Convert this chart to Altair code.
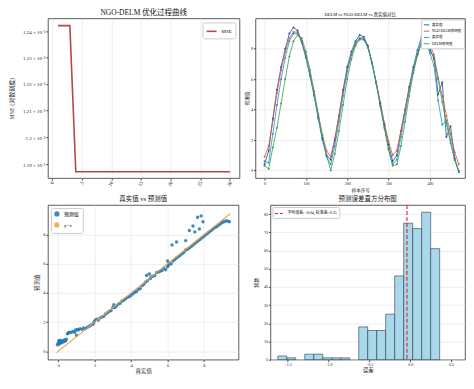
import altair as alt
import pandas as pd

FONT = "Liberation Serif, Noto Sans CJK SC"
GRID = "#e2e2e2"

iterations = list(range(1, 31))
mse_values = [0.12423, 0.12423, 0.12423, 0.11872, 0.11872, 0.11872, 0.11872, 0.11872, 0.11872, 0.11872,
              0.11872, 0.11872, 0.11872, 0.11872, 0.11872, 0.11872, 0.11872, 0.11872, 0.11872, 0.11872,
              0.11872, 0.11872, 0.11872, 0.11872, 0.11872, 0.11872, 0.11872, 0.11872, 0.11872, 0.11872]
mse_ticks = [0.119, 0.120, 0.121, 0.122, 0.123, 0.124]

samples = list(range(0, 471, 10))
true_a = [0.4, 1.3, 3.4, 5.3, 6.8, 8.0, 9.0, 9.4, 9.2, 8.5,
          7.5, 6.3, 5.0, 3.5, 2.1, 1.0, 0.7, 2.0, 3.6, 5.3,
          6.8, 7.8, 8.5, 8.9, 8.8, 8.2, 7.1, 5.8, 4.4, 3.0,
          1.7, 0.6, 1.0, 2.6, 4.0, 5.5, 6.8, 7.9, 8.8, 9.0,
          7.9, 7.4, 5.0, 5.8, 2.2, 2.9, 0.8, -0.1]
ngo_pred = [0.9, 1.6, 3.3, 5.1, 6.6, 7.8, 8.7, 9.1, 9.1, 8.5,
            7.5, 6.3, 5.0, 3.6, 2.3, 1.3, 0.9, 2.1, 3.6, 5.2,
            6.6, 7.6, 8.3, 8.7, 8.7, 8.1, 7.1, 5.8, 4.5, 3.1,
            1.9, 1.0, 1.3, 2.6, 4.0, 5.4, 6.6, 7.6, 8.4, 8.7,
            8.3, 7.6, 6.1, 4.9, 3.6, 2.4, 1.2, 0.4]
true_b = [0.6, 0.5, 2.4, 4.3, 6.0, 7.4, 8.5, 9.0, 9.0, 8.4,
          7.4, 6.2, 4.9, 3.4, 2.0, 0.9, 0.4, 1.6, 3.2, 4.9,
          6.5, 7.6, 8.4, 8.7, 8.7, 8.1, 7.0, 5.7, 4.2, 2.8,
          1.4, 0.4, 0.7, 2.2, 3.7, 5.2, 6.6, 7.7, 8.5, 8.7,
          7.7, 6.9, 4.6, 3.0, 3.3, 2.0, 0.7, -0.1]
delm_pred = [0.3, 0.1, 1.5, 2.8, 4.4, 6.0, 7.5, 8.5, 8.9, 8.7,
             7.8, 6.6, 5.2, 3.7, 2.3, 1.0, 0.0, 1.1, 2.6, 4.3,
             6.0, 7.3, 8.2, 8.6, 8.6, 8.1, 7.1, 5.8, 4.3, 2.8,
             1.4, 0.3, 0.4, 1.6, 3.2, 4.9, 6.4, 7.6, 8.4, 8.6,
             8.1, 7.3, 6.0, 4.5, 3.1, 1.8, 0.7, 0.0]
series_labels = ["真实值", "NGO-DELM预测值", "真实值 ", "DELM预测值"]
series_colors = ["#1f4e9e", "#e0523c", "#2a8fc4", "#35a04a"]

scatter_true = [-0.05, 0.00, 0.02, 0.05, 0.08, 0.10, 0.12, 0.15, 0.20, 0.25,
                0.30, 0.35, 0.40, 0.45, 0.50, 0.55, 0.60, 0.70, 0.80, 0.90,
                0.95, 1.00, 1.05, 1.10, 1.20, 1.30, 1.40, 1.50, 1.60, 1.70,
                1.80, 1.90, 1.95, 2.00, 2.10, 2.20, 2.30, 2.40, 2.50, 2.60,
                2.70, 2.80, 2.90, 3.00, 3.05, 3.10, 3.20, 3.30, 3.40, 3.50,
                3.60, 3.70, 3.80, 3.90, 4.00, 4.10, 4.20, 4.30, 4.40, 4.50,
                4.60, 4.70, 4.80, 4.85, 4.90, 5.00, 5.05, 5.10, 5.20, 5.30,
                5.40, 5.50, 5.60, 5.70, 5.80, 5.90, 6.00, 6.00, 6.05, 6.10,
                6.20, 6.25, 6.30, 6.40, 6.50, 6.50, 6.60, 6.70, 6.80, 6.90,
                7.00, 7.00, 7.10, 7.20, 7.20, 7.30, 7.40, 7.40, 7.50, 7.50,
                7.60, 7.65, 7.70, 7.75, 7.80, 7.85, 7.90, 7.95, 8.00, 8.10,
                8.20, 8.30, 8.40, 8.50, 8.60, 8.70, 8.80, 8.90, 9.00, 9.10,
                9.20, 9.30, 9.40]
scatter_pred = [0.45, 0.55, 0.70, 0.50, 0.62, 0.75, 0.55, 0.68, 0.60, 0.72,
                0.65, 0.78, 0.70, 0.82, 1.20, 1.25, 1.30, 1.28, 1.35, 1.30,
                1.45, 1.10, 1.50, 1.45, 1.55, 1.50, 1.60, 1.55, 1.65, 1.72,
                1.80, 1.85, 1.95, 2.10, 2.20, 2.15, 2.30, 2.35, 2.40, 2.55,
                2.65, 2.75, 2.80, 3.00, 3.20, 3.00, 3.10, 3.25, 3.30, 3.45,
                3.50, 3.60, 3.70, 3.75, 3.85, 3.95, 4.05, 4.10, 4.25, 4.30,
                4.50, 4.60, 4.75, 5.20, 4.85, 5.30, 5.00, 5.10, 5.15, 5.20,
                5.40, 5.45, 5.50, 5.55, 5.70, 5.60, 5.80, 6.20, 5.90, 6.05,
                6.00, 7.30, 6.20, 6.30, 6.40, 7.50, 6.50, 6.60, 6.70, 6.80,
                6.95, 7.60, 7.00, 7.10, 8.30, 7.20, 7.30, 8.60, 7.40, 8.20,
                7.50, 9.20, 7.60, 8.40, 7.70, 9.30, 7.80, 8.90, 7.90, 8.00,
                8.10, 8.20, 8.30, 8.40, 8.50, 8.55, 8.65, 8.75, 8.85, 8.90,
                8.95, 8.95, 8.90]
identity_line = [-0.1, 9.45]
scatter_kinds = ["预测值", "y=x"]

bin_left = [-1.62, -1.51, -1.29, -1.18, -1.07, -0.96, -0.85, -0.63, -0.52, -0.41,
            -0.30, -0.19, -0.08, 0.03, 0.14, 0.25]
bin_right = [-1.51, -1.40, -1.18, -1.07, -0.96, -0.85, -0.74, -0.52, -0.41, -0.30,
             -0.19, -0.08, 0.03, 0.14, 0.25, 0.36]
bin_count = [2, 1, 3, 3, 1, 1, 1, 18, 16, 16, 25, 46, 75, 72, 81, 61]
mean_error = -0.04
mean_label = "平均误差: -0.04, 标准差: 0.35"


def ax(**kw):
    base = dict(labelFont=FONT, titleFont=FONT, labelColor="#222", titleColor="#222",
                tickColor="#444", domain=False, titleFontWeight="normal",
                tickSize=2, labelPadding=1, gridColor=GRID, gridWidth=0.6)
    base.update(kw)
    return alt.Axis(**base)


def ttl(text, size, offset):
    return alt.TitleParams(text, font=FONT, fontSize=size, fontWeight="normal",
                           offset=offset, color="#111")


df1 = pd.DataFrame({"iter": iterations, "mse": mse_values, "name": ["MSE"] * len(iterations)})
p1 = alt.Chart(df1).mark_line(strokeWidth=1.6).encode(
    x=alt.X("iter:Q", scale=alt.Scale(domain=[-0.7, 31.6], nice=False, zero=False),
            axis=ax(values=[0, 5, 10, 15, 20, 25, 30], title=None, labelAngle=-60,
                    labelFontSize=5, grid=True)),
    y=alt.Y("mse:Q", scale=alt.Scale(type="log", domain=[0.11849, 0.12451], nice=False),
            axis=ax(values=mse_ticks, labelExpr="format(datum.value*10, '.2~f') + ' × 10⁻¹'",
                    grid=False, title="MSE (对数刻度)", labelFontSize=5, titleFontSize=6,
                    titlePadding=3, minExtent=30, maxExtent=30)),
    color=alt.Color("name:N", scale=alt.Scale(domain=["MSE"], range=["#b5474b"]),
                    legend=alt.Legend(title=None, orient="top-right", symbolType="stroke",
                                      symbolStrokeWidth=1.6, symbolSize=100, labelFontSize=5,
                                      labelFont=FONT, fillColor="white", strokeColor="#cccccc",
                                      padding=3, cornerRadius=2, offset=4))
).properties(width=192, height=160, title=ttl("NGO-DELM 优化过程曲线", 7.5, 1.5))

rows = []
for lab, vals in zip(series_labels, [true_a, ngo_pred, true_b, delm_pred]):
    for s, v in zip(samples, vals):
        rows.append({"sample": s, "value": v, "series": lab})
df2 = pd.DataFrame(rows)
base2 = alt.Chart(df2).encode(
    x=alt.X("sample:Q", scale=alt.Scale(domain=[-22, 485], nice=False, zero=False),
            axis=ax(values=[0, 100, 200, 300, 400], title="样本序号", labelFontSize=4,
                    titleFontSize=4.5, titlePadding=2, grid=True)),
    y=alt.Y("value:Q", scale=alt.Scale(domain=[-0.5, 10.0], nice=False, zero=False),
            axis=ax(values=[0, 2, 4, 6, 8], title="预测值", labelFontSize=4,
                    titleFontSize=4.5, titlePadding=1, grid=True)),
    color=alt.Color("series:N", sort=series_labels,
                    scale=alt.Scale(domain=series_labels, range=series_colors),
                    legend=alt.Legend(title=None, orient="top-right", symbolType="stroke",
                                      symbolStrokeWidth=1, symbolSize=30, labelFontSize=3.5,
                                      labelFont=FONT, fillColor="white", strokeColor="#cccccc",
                                      padding=2, rowPadding=0.3, cornerRadius=1, offset=1,
                                      labelOffset=2))
)
p2 = alt.layer(
    base2.mark_line(strokeWidth=0.8),
    base2.mark_point(filled=True, size=4, opacity=0.9),
).properties(width=210, height=160,
             title=ttl("DELM vs NGO-DELM vs 真实值对比", 4.5, 1.5))

df3 = pd.DataFrame({"t": scatter_true, "p": scatter_pred, "kind": ["预测值"] * len(scatter_true)})
df3l = pd.DataFrame({"t": identity_line, "p": identity_line, "kind": ["y=x"] * 2})
x3 = alt.X("t:Q", scale=alt.Scale(domain=[-0.57, 9.9], nice=False, zero=False),
           axis=ax(values=[0, 2, 4, 6, 8], title="真实值", labelFontSize=4.5, titleFontSize=5.5,
                   titlePadding=1, grid=True))
y3 = alt.Y("p:Q", scale=alt.Scale(domain=[-0.58, 10.05], nice=False, zero=False),
           axis=ax(values=[0, 2, 4, 6, 8], title="预测值", labelFontSize=4.5, titleFontSize=5.5,
                   titlePadding=3, grid=True))
col3 = alt.Color("kind:N", scale=alt.Scale(domain=scatter_kinds, range=["#1f77b4", "#eea236"]),
                 legend=alt.Legend(title=None, orient="top-left", labelFontSize=5, labelFont=FONT,
                                   fillColor="white", strokeColor="#cccccc", padding=3,
                                   rowPadding=1, cornerRadius=2, offset=3, symbolSize=14))
pts = alt.Chart(df3).mark_circle(size=12, opacity=0.85).encode(x=x3, y=y3, color=col3)
ln3 = alt.Chart(df3l).mark_line(strokeWidth=1.1).encode(x=x3, y=y3, color=col3)
p3 = alt.layer(pts, ln3).properties(width=191, height=155, title=ttl("真实值 vs 预测值", 6.5, 2))

df4 = pd.DataFrame({"l": bin_left, "r": bin_right, "n": bin_count})
x4 = alt.X("l:Q", scale=alt.Scale(domain=[-1.71, 0.67], nice=False, zero=False),
           axis=ax(values=[-1.5, -1.0, -0.5, 0.0, 0.5], format=".1f", title="误差",
                   labelFontSize=4, titleFontSize=5.5, titlePadding=1, grid=False))
bars = alt.Chart(df4).mark_bar(fill="#a9d8ea", stroke="#2b3a4a", strokeWidth=0.6).encode(
    x=x4, x2="r:Q",
    y=alt.Y("n:Q", scale=alt.Scale(domain=[0, 85], nice=False),
            axis=ax(values=[0, 10, 20, 30, 40, 50, 60, 70, 80], title="频数", labelFontSize=4,
                    titleFontSize=5, titlePadding=5, grid=True)),
    y2=alt.datum(0))
df4m = pd.DataFrame({"m": [mean_error], "lab": [mean_label]})
rule = alt.Chart(df4m).mark_rule(strokeDash=[4, 2], strokeWidth=1.1).encode(
    x=alt.X("m:Q"),
    color=alt.Color("lab:N", scale=alt.Scale(range=["#d62728"]),
                    legend=alt.Legend(title=None, orient="top-left", symbolType="stroke",
                                      symbolDash=[3, 2], symbolStrokeWidth=1.1, symbolSize=60,
                                      labelFontSize=4, labelFont=FONT, fillColor="white",
                                      strokeColor="#cccccc", padding=2, cornerRadius=1, offset=2)))
p4 = alt.layer(bars, rule).properties(width=195, height=155, title=ttl("预测误差直方分布图", 6.5, 2))

row1 = alt.hconcat(p1, p2, spacing=16, bounds="flush").resolve_scale(color="independent")
row2 = alt.hconcat(p3, p4, spacing=32, bounds="flush").resolve_scale(color="independent")

chart = alt.vconcat(row1, row2, spacing=3).resolve_scale(color="independent").properties(
    padding=0
).configure(font=FONT).configure_view(stroke="#333333", strokeWidth=0.8)

chart.save("out.html", embed_options={"renderer": "svg", "actions": False})
